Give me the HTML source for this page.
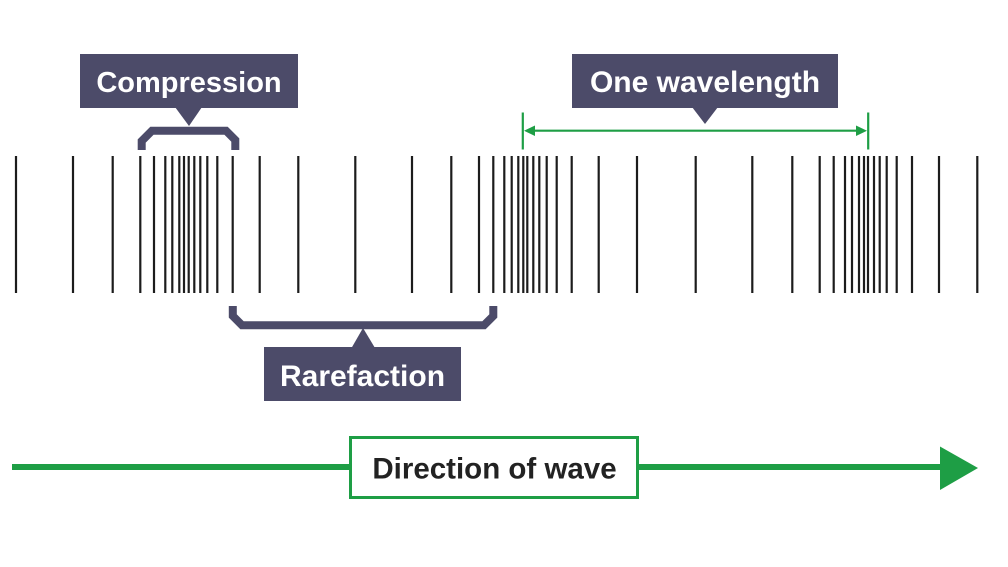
<!DOCTYPE html>
<html>
<head>
<meta charset="utf-8">
<style>
  html,body{margin:0;padding:0;background:#fff;}
  svg{display:block;}
  text{font-family:"Liberation Sans",Arial,sans-serif;font-weight:bold;}
</style>
</head>
<body>
<svg width="1008" height="567" viewBox="0 0 1008 567" xmlns="http://www.w3.org/2000/svg">
  <rect width="1008" height="567" fill="#fff"/>
  <g stroke="#1c1c1c" stroke-width="2.2">
    <line x1="16" y1="156" x2="16" y2="293"/>
    <line x1="73" y1="156" x2="73" y2="293"/>
    <line x1="112.7" y1="156" x2="112.7" y2="293"/>
    <line x1="140.3" y1="156" x2="140.3" y2="293"/>
    <line x1="154" y1="156" x2="154" y2="293"/>
    <line x1="165.3" y1="156" x2="165.3" y2="293"/>
    <line x1="172.3" y1="156" x2="172.3" y2="293"/>
    <line x1="179.3" y1="156" x2="179.3" y2="293"/>
    <line x1="184" y1="156" x2="184" y2="293"/>
    <line x1="188.7" y1="156" x2="188.7" y2="293"/>
    <line x1="194.3" y1="156" x2="194.3" y2="293"/>
    <line x1="200.3" y1="156" x2="200.3" y2="293"/>
    <line x1="207.3" y1="156" x2="207.3" y2="293"/>
    <line x1="217.3" y1="156" x2="217.3" y2="293"/>
    <line x1="232.7" y1="156" x2="232.7" y2="293"/>
    <line x1="259.7" y1="156" x2="259.7" y2="293"/>
    <line x1="298.3" y1="156" x2="298.3" y2="293"/>
    <line x1="355.3" y1="156" x2="355.3" y2="293"/>
    <line x1="412" y1="156" x2="412" y2="293"/>
    <line x1="451.3" y1="156" x2="451.3" y2="293"/>
    <line x1="479" y1="156" x2="479" y2="293"/>
    <line x1="493.3" y1="156" x2="493.3" y2="293"/>
    <line x1="504.3" y1="156" x2="504.3" y2="293"/>
    <line x1="511.7" y1="156" x2="511.7" y2="293"/>
    <line x1="518.3" y1="156" x2="518.3" y2="293"/>
    <line x1="523.3" y1="156" x2="523.3" y2="293"/>
    <line x1="527.3" y1="156" x2="527.3" y2="293"/>
    <line x1="533.3" y1="156" x2="533.3" y2="293"/>
    <line x1="539.3" y1="156" x2="539.3" y2="293"/>
    <line x1="546.7" y1="156" x2="546.7" y2="293"/>
    <line x1="556.7" y1="156" x2="556.7" y2="293"/>
    <line x1="571.7" y1="156" x2="571.7" y2="293"/>
    <line x1="598.7" y1="156" x2="598.7" y2="293"/>
    <line x1="637" y1="156" x2="637" y2="293"/>
    <line x1="695.7" y1="156" x2="695.7" y2="293"/>
    <line x1="752.3" y1="156" x2="752.3" y2="293"/>
    <line x1="792.3" y1="156" x2="792.3" y2="293"/>
    <line x1="819.7" y1="156" x2="819.7" y2="293"/>
    <line x1="833.7" y1="156" x2="833.7" y2="293"/>
    <line x1="845" y1="156" x2="845" y2="293"/>
    <line x1="852" y1="156" x2="852" y2="293"/>
    <line x1="859" y1="156" x2="859" y2="293"/>
    <line x1="864" y1="156" x2="864" y2="293"/>
    <line x1="868" y1="156" x2="868" y2="293"/>
    <line x1="874" y1="156" x2="874" y2="293"/>
    <line x1="879.7" y1="156" x2="879.7" y2="293"/>
    <line x1="886.7" y1="156" x2="886.7" y2="293"/>
    <line x1="896.7" y1="156" x2="896.7" y2="293"/>
    <line x1="912" y1="156" x2="912" y2="293"/>
    <line x1="939" y1="156" x2="939" y2="293"/>
    <line x1="977.3" y1="156" x2="977.3" y2="293"/>
  </g>

  <rect x="80" y="54" width="218" height="54" fill="#4c4b69"/>
  <polygon points="175,107 202,107 189,126" fill="#4c4b69"/>
  <text x="189" y="92" font-size="29" fill="#fff" text-anchor="middle">Compression</text>
  <polyline points="141.7,150 141.7,141 152,130.7 226,130.7 235.3,140 235.3,150" fill="none" stroke="#4c4b69" stroke-width="8" stroke-linejoin="miter"/>

  <polyline points="232.8,306 232.8,316 242,325.2 484,325.2 493.3,316 493.3,306" fill="none" stroke="#4c4b69" stroke-width="8" stroke-linejoin="miter"/>
  <polygon points="351.5,348 375,348 363,328" fill="#4c4b69"/>
  <rect x="264" y="347" width="197" height="54" fill="#4c4b69"/>
  <text x="362.5" y="386" font-size="30" fill="#fff" text-anchor="middle">Rarefaction</text>

  <rect x="572" y="54" width="266" height="54" fill="#4c4b69"/>
  <polygon points="692,107 718,107 705,124" fill="#4c4b69"/>
  <text x="705" y="92" font-size="30" fill="#fff" text-anchor="middle">One wavelength</text>
  <g stroke="#1e9e45" stroke-width="2.2">
    <line x1="522.8" y1="112.5" x2="522.8" y2="149.5"/>
    <line x1="868.2" y1="112.5" x2="868.2" y2="149.5"/>
    <line x1="530" y1="130.7" x2="861" y2="130.7"/>
  </g>
  <polygon points="524,130.7 535,125.5 535,136" fill="#1e9e45"/>
  <polygon points="867,130.7 856,125.5 856,136" fill="#1e9e45"/>

  <rect x="12" y="464" width="932" height="6" fill="#1e9e45"/>
  <polygon points="940,446.5 978,468 940,490" fill="#1e9e45"/>
  <rect x="350.5" y="437.5" width="287" height="60" fill="#fff" stroke="#1e9e45" stroke-width="3"/>
  <text x="494.5" y="478.5" font-size="29.5" fill="#222" text-anchor="middle">Direction of wave</text>
</svg>
</body>
</html>
